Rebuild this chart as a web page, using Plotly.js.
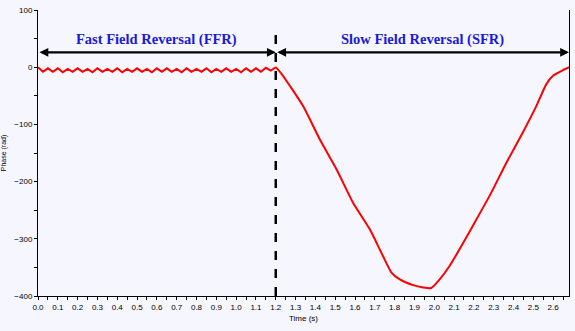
<!DOCTYPE html>
<html><head><meta charset="utf-8">
<script src="https://cdn.plot.ly/plotly-3.0.1.min.js"></script>
<style>html,body{margin:0;padding:0;background:#f5f6fe;}#c{width:575px;height:331px;}</style>
</head><body><div id="c"></div>
<script>
const ffrTime = [0,0.025,0.05,0.075,0.1,0.125,0.15,0.175,0.2,0.225,0.25,0.275,0.3,0.325,0.35,0.375,0.4,0.425,0.45,0.475,0.5,0.525,0.55,0.575,0.6,0.625,0.65,0.675,0.7,0.725,0.75,0.775,0.8,0.825,0.85,0.875,0.9,0.925,0.95,0.975,1.0,1.025,1.05,1.075,1.1,1.125,1.15,1.175,1.2];
const ffrPhase = [0,-8,-2,-8,-2,-9,-3,-8,-2,-8,-3,-9,-2,-8,-3,-8,-2,-9,-3,-8,-2,-8,-3,-9,-2,-8,-2,-8,-3,-9,-2,-8,-3,-8,-2,-9,-3,-8,-2,-8,-3,-9,-2,-8,-2,-8,-1,-6,0];
const sfrTime = [1.2,1.23,1.27,1.338,1.422,1.506,1.59,1.674,1.741,1.784,1.826,1.893,1.943,1.985,2.027,2.078,2.128,2.195,2.279,2.364,2.447,2.515,2.565,2.599,2.65,2.683];
const sfrPhase = [0,-12,-32,-68,-126,-178,-237,-283,-330,-359,-371,-381,-385,-386,-371,-347,-318,-277,-225,-167,-114,-68,-30,-15,-5,0];
const labels = ["Fast Field Reversal (FFR)","Slow Field Reversal (SFR)"];
const regionStart = [0,1.2];
const regionEnd = [1.2,2.68];
const xTitle = "Time (s)";
const yTitle = "Phase (rad)";

const red = '#ff0000';
const traces = [
  {x: ffrTime, y: ffrPhase, mode:'lines', line:{color:red,width:2}, hoverinfo:'skip'},
  {x: sfrTime, y: sfrPhase, mode:'lines', line:{color:red,width:2, shape:'spline', smoothing:0.6}, hoverinfo:'skip'}
];
const arrowY = 26;
const annotations = [];
for (let i=0;i<labels.length;i++){
  annotations.push({x: regionEnd[i], y: arrowY, ax: regionStart[i], ay: arrowY, xref:'x', yref:'y', axref:'x', ayref:'y',
    text:'', showarrow:true, arrowside:'end+start', arrowhead:2, arrowsize:0.8, arrowwidth:2.2, arrowcolor:'#000', standoff:0, startstandoff:0});
  annotations.push({x:(regionStart[i]+regionEnd[i])/2, y:49, xref:'x', yref:'y', text:'<b>'+labels[i]+'</b>', showarrow:false,
    font:{family:'Liberation Serif, Times New Roman, serif', size:14.5, color:'#1a1ad8'}});
}
const layout = {
  width:575, height:331,
  margin:{l:38, r:6, t:10, b:35},
  paper_bgcolor:'#f5f6fe', plot_bgcolor:'#f5f6fe',
  showlegend:false,
  xaxis:{range:[0,2.68], dtick:0.1, tick0:0, tickformat:'.1f', showgrid:false, zeroline:false,
    showline:true, linecolor:'#000', linewidth:1, ticks:'outside', ticklen:3, tickcolor:'#000',
    minor:{dtick:0.05, ticks:'outside', ticklen:3, tickcolor:'#000'},
    tickfont:{family:'Liberation Sans, Arial, sans-serif', size:8, color:'#000'},
    title:{text:xTitle, font:{family:'Liberation Sans, Arial, sans-serif', size:8, color:'#000'}, standoff:4}},
  yaxis:{range:[-400,100], dtick:100, showgrid:false, zeroline:false,
    showline:true, linecolor:'#000', linewidth:1, mirror:true, ticks:'outside', ticklen:3, tickcolor:'#000',
    minor:{dtick:50, ticks:'outside', ticklen:3, tickcolor:'#000'},
    tickfont:{family:'Liberation Sans, Arial, sans-serif', size:8, color:'#000'},
    title:{text:yTitle, font:{family:'Liberation Sans, Arial, sans-serif', size:7, color:'#000'}, standoff:6}},
  shapes:[{type:'line', xref:'x', yref:'y', x0:1.2, x1:1.2, y0:-400, y1:66, line:{color:'#000', width:2.5, dash:'dash'}}],
  annotations: annotations
};
Plotly.newPlot('c', traces, layout, {displayModeBar:false, staticPlot:true});
</script></body></html>
